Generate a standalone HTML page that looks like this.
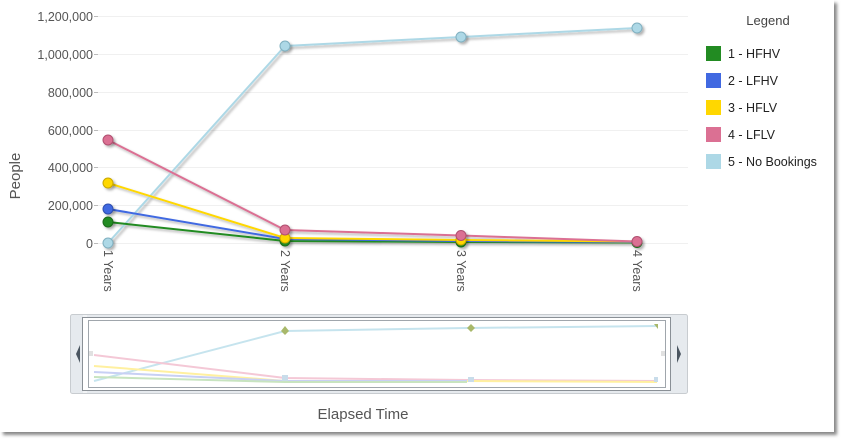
<!DOCTYPE html><html><head><style>body{margin:0;background:#fff;width:843px;height:442px;overflow:hidden;font-family:"Liberation Sans",sans-serif}</style></head><body>
<svg width="843" height="442" xmlns="http://www.w3.org/2000/svg" font-family="Liberation Sans, sans-serif">
<defs><filter id="sh" x="-20%" y="-20%" width="140%" height="140%"><feDropShadow dx="2" dy="2" stdDeviation="1.2" flood-color="#000" flood-opacity="0.3"/></filter>
<filter id="bs"><feGaussianBlur stdDeviation="1.5"/></filter></defs>
<rect x="3" y="3" width="834" height="432" fill="#888" filter="url(#bs)"/>
<rect x="0" y="0" width="834" height="432" fill="#fff"/>
<g stroke="#f0f0f0" stroke-width="1">
<line x1="97" x2="688" y1="16.5" y2="16.5"/><line x1="97" x2="688" y1="54.5" y2="54.5"/><line x1="97" x2="688" y1="92.5" y2="92.5"/><line x1="97" x2="688" y1="130.5" y2="130.5"/><line x1="97" x2="688" y1="167.5" y2="167.5"/><line x1="97" x2="688" y1="205.5" y2="205.5"/><line x1="97" x2="688" y1="243.5" y2="243.5"/>
</g>
<g stroke="#bbb"><line x1="94" x2="98" y1="16.5" y2="16.5"/><line x1="94" x2="98" y1="54.5" y2="54.5"/><line x1="94" x2="98" y1="92.5" y2="92.5"/><line x1="94" x2="98" y1="130.5" y2="130.5"/><line x1="94" x2="98" y1="167.5" y2="167.5"/><line x1="94" x2="98" y1="205.5" y2="205.5"/><line x1="94" x2="98" y1="243.5" y2="243.5"/></g>
<g font-size="12.5" fill="#555" text-anchor="end">
<text x="93" y="21">1,200,000</text><text x="93" y="59">1,000,000</text><text x="93" y="97">800,000</text><text x="93" y="135">600,000</text><text x="93" y="172">400,000</text><text x="93" y="210">200,000</text><text x="93" y="248">0</text>
</g>
<text transform="translate(20,176) rotate(-90)" text-anchor="middle" font-size="15" fill="#555">People</text>
<g font-size="12.5" fill="#555">
<text transform="translate(104,250) rotate(90)">1 Years</text>
<text transform="translate(281,250) rotate(90)">2 Years</text>
<text transform="translate(457,250) rotate(90)">3 Years</text>
<text transform="translate(633,250) rotate(90)">4 Years</text>
</g>
<g fill="none" stroke-width="2" filter="url(#sh)">
<polyline stroke="#add8e6" points="108,243 285,46 461,37 637,28"/>
<polyline stroke="#228b22" points="108,222 285,241 461,242 637,242.5"/>
<polyline stroke="#4169e1" points="108,209 285,239 461,241 637,242"/>
<polyline stroke="#ffd700" points="108,183 285,238 461,240 637,241.5"/>
<polyline stroke="#db7093" points="108,140 285,230 461,235.5 637,241.5"/>
</g>
<g stroke-width="1" filter="url(#sh)">
<g fill="#228b22" stroke="#1a6a1a"><circle cx="285" cy="241" r="5"/><circle cx="461" cy="242" r="5"/><circle cx="637" cy="242.5" r="5"/><circle cx="108" cy="222" r="5"/></g>
<g fill="#ffd700" stroke="#c9a800"><circle cx="108" cy="183" r="5"/><circle cx="285" cy="238" r="5"/><circle cx="461" cy="240" r="5"/></g>
<g fill="#4169e1" stroke="#2f4fb0"><circle cx="108" cy="209" r="5"/></g>
<g fill="#db7093" stroke="#b05070"><circle cx="108" cy="140" r="5"/><circle cx="285" cy="230" r="5"/><circle cx="461" cy="235.5" r="5"/><circle cx="637" cy="241.5" r="5"/></g>
<g fill="#add8e6" stroke="#80b0c0"><circle cx="108" cy="243" r="5"/><circle cx="285" cy="46" r="5"/><circle cx="461" cy="37" r="5"/><circle cx="637" cy="28" r="5"/></g>
</g>
<text x="768" y="25" text-anchor="middle" font-size="13" fill="#444">Legend</text>
<g font-size="12.5" fill="#222">
<rect x="706" y="46" width="15" height="15" fill="#228b22"/><text x="728" y="58">1 - HFHV</text>
<rect x="706" y="73" width="15" height="15" fill="#4169e1"/><text x="728" y="85">2 - LFHV</text>
<rect x="706" y="100" width="15" height="15" fill="#ffd700"/><text x="728" y="112">3 - HFLV</text>
<rect x="706" y="127" width="15" height="15" fill="#db7093"/><text x="728" y="139">4 - LFLV</text>
<rect x="706" y="154" width="15" height="15" fill="#add8e6"/><text x="728" y="166">5 - No Bookings</text>
</g>
<rect x="70.5" y="314.5" width="617" height="79" rx="2" fill="#e6eaee" stroke="#c8ccd0"/>
<rect x="83" y="315" width="4" height="78" fill="#f2f4f6"/>
<rect x="82.5" y="317.5" width="588" height="73" fill="#fff" stroke="#8a9096"/>
<rect x="88.5" y="320.5" width="577" height="67" fill="#fff" stroke="#a0a6ac"/>
<polygon points="80,345 76,354 80,363" fill="#4a5560"/>
<polygon points="677,345 681,354 677,363" fill="#4a5560"/>
<g stroke="#aaa" stroke-width="0.7"><line x1="90" x2="90" y1="351" y2="356"/><line x1="92" x2="92" y1="351" y2="356"/><line x1="662" x2="662" y1="351" y2="356"/><line x1="664" x2="664" y1="351" y2="356"/></g>
<polyline fill="none" stroke="#c6e4ee" stroke-width="2" points="94,381 285,331 467,328 657,326"/>
<polyline fill="none" stroke="#f4c8d6" stroke-width="2" points="94,355 285,378 467,380 657,381"/>
<polyline fill="none" stroke="#fff0a0" stroke-width="2" points="94,366 285,381 467,381 657,382"/>
<polyline fill="none" stroke="#c8d0f4" stroke-width="2" points="94,372 285,381 467,381"/>
<polyline fill="none" stroke="#c8e4c0" stroke-width="2" points="94,377 285,382 467,382"/>
<g fill="#a8b86a"><polygon points="285,326 289,331 285,335 281,331"/><polygon points="471,324 475,328 471,332 467,328"/><polygon points="654,324 658,324 658,329"/></g>
<g fill="#c8dcea"><rect x="282" y="375" width="6" height="6"/><rect x="468" y="377" width="6" height="5"/><rect x="654" y="377" width="4" height="5"/></g>
<text x="363" y="419" text-anchor="middle" font-size="15" fill="#555">Elapsed Time</text>
</svg>
</body></html>
